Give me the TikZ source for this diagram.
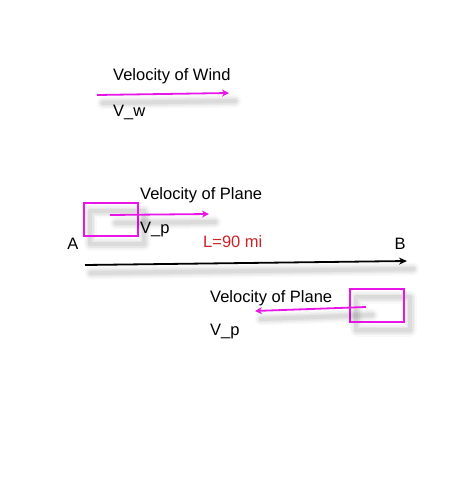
\documentclass[tikz,border=0pt]{standalone}
\usepackage{fontspec}
\setmainfont{Liberation Sans}
\usetikzlibrary{arrows.meta}
\definecolor{vmag}{RGB}{232,20,232}
\definecolor{lred}{RGB}{205,35,40}
\tikzset{
  shad/.style={
    preaction={draw=black,arrows=-,opacity=.025,line width=13,line cap=round,line join=round,transform canvas={shift={(6pt,-8pt)}}},
    preaction={draw=black,arrows=-,opacity=.03,line width=10,line cap=round,line join=round,transform canvas={shift={(6pt,-8pt)}}},
    preaction={draw=black,arrows=-,opacity=.04,line width=7,line cap=round,line join=round,transform canvas={shift={(6pt,-8pt)}}},
    preaction={draw=black,arrows=-,opacity=.05,line width=4,line cap=round,line join=round,transform canvas={shift={(6pt,-8pt)}}}},
  vec/.style={draw=vmag,line width=1.8,-{Stealth[length=7,width=7]},shad},
  base/.style={draw=black,line width=1.8,-{Stealth[length=8,width=7]},shad},
  vbox/.style={draw=vmag,line width=1.8,shad},
  lbl/.style={font=\fontsize{16.5}{19}\selectfont,inner sep=0,text=black},
}
\begin{document}
\begin{tikzpicture}[x=1pt,y=-1pt]
\useasboundingbox[fill=white] (0,0) rectangle (450,500);
% wind
\node[lbl,anchor=west] (tw) at (113,76) {Velocity of Wind};
\node[lbl,anchor=west] (vw) at (113,112) {V\_w};
\coordinate (w1) at (97,95);
\coordinate (w2) at (229,93);
\draw[vec] (w1) -- (w2);
% plane 1
\node[lbl,anchor=west] (tp1) at (140,195) {Velocity of Plane};
\node[vbox,minimum width=54,minimum height=33,inner sep=0] (b1) at (111,219.5) {};
\coordinate (p1a) at (110,215);
\coordinate (p1b) at (209,214);
\draw[vec] (p1a) -- (p1b);
\node[lbl,anchor=west] (vp1) at (140,230) {V\_p};
% line AB
\node[lbl] (A) at (73,244) {A};
\node[lbl] (B) at (400,244) {B};
\node[lbl,text=lred,anchor=west] (L) at (203,242) {L=90 mi};
\coordinate (a1) at (85,265);
\coordinate (b1e) at (407,261);
\draw[base] (a1) -- (b1e);
% plane 2
\node[lbl,anchor=west] (tp2) at (210,298) {Velocity of Plane};
\node[vbox,minimum width=54,minimum height=33,inner sep=0] (b2) at (377,305.5) {};
\coordinate (p2a) at (366,307);
\coordinate (p2b) at (255,311);
\draw[vec] (p2a) -- (p2b);
\node[lbl,anchor=west] (vp2) at (210,332) {V\_p};
\end{tikzpicture}
\end{document}
